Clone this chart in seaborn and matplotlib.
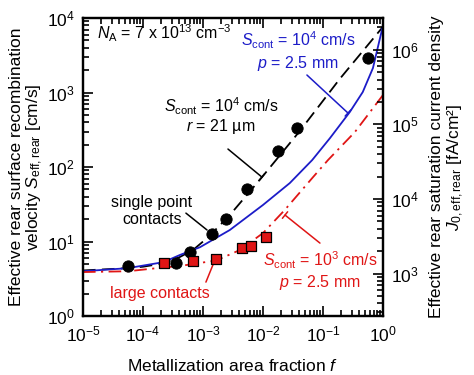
import matplotlib
matplotlib.use("Agg")
import matplotlib.pyplot as plt
import numpy as np
import pandas as pd
import seaborn as sns
from matplotlib.ticker import LogLocator, NullFormatter

# measured points (metallization fraction f, S_eff,rear in cm/s)
point_f = [5.6e-5, 3.5e-4, 6.1e-4, 1.41e-3, 2.4e-3, 5.4e-3, 0.0178, 0.037, 0.56]
point_s = [4.7, 5.1, 7.2, 12.6, 20, 51, 164, 334, 2900]
large_f = [2.24e-4, 6.8e-4, 1.65e-3, 4.47e-3, 6.3e-3, 0.0112]
large_s = [5.1, 5.5, 5.8, 8.2, 8.7, 11.5]

# model curves
dash_f = [1e-5, 5.6e-5, 1e-4, 2.2e-4, 4.1e-4, 6.8e-4, 1e-3, 1.4e-3, 2.8e-3, 9.6e-3, 0.041, 0.19, 0.96, 1.0]
dash_s = [4.1, 4.4, 4.6, 5.1, 6.2, 7.7, 10.0, 12.8, 22.7, 73, 304, 1520, 7340, 7600]
blue_f = [1e-5, 5.6e-5, 2.2e-4, 4.1e-4, 8.9e-4, 2.8e-3, 0.01, 0.028, 0.066, 0.131, 0.28, 0.46, 0.68, 0.96, 1.0]
blue_s = [4.0, 4.4, 5.3, 6.6, 8.4, 14.3, 31, 61, 124, 245, 548, 1015, 2130, 6900, 8000]
red_f = [1e-5, 5.6e-5, 2.2e-4, 4.1e-4, 1.7e-3, 4.1e-3, 0.01, 0.023, 0.068, 0.121, 0.34, 0.79, 1.0]
red_s = [3.9, 4.0, 4.5, 4.7, 5.6, 7.7, 13, 26.5, 73, 124, 295, 722, 925]

j0_per_s = 268  # fA/cm^2 per cm/s, right axis scaling

BLUE = "#1c1cc8"
RED = "#e01515"

sns.set_style("ticks", rc={
    "axes.edgecolor": "black",
    "axes.labelcolor": "black",
    "text.color": "black",
    "xtick.color": "black",
    "ytick.color": "black",
})
plt.rcParams["font.family"] = ["Liberation Sans", "DejaVu Sans"]
plt.rcParams["mathtext.fontset"] = "custom"
plt.rcParams["mathtext.rm"] = "Liberation Sans"
plt.rcParams["mathtext.it"] = "Liberation Sans:italic"
plt.rcParams["axes.unicode_minus"] = False

# minor tick positions: 2..9 times each decade shown
minor_x = [m * 10.0 ** k for k in range(-5, 0) for m in range(2, 10)]
minor_y = [m * 10.0 ** k for k in range(0, 4) for m in range(2, 10)]
minor_j = [m * 10.0 ** k for k in range(2, 7) for m in range(2, 10)]


def style_ticks(a):
    a.tick_params(which="both", direction="in", width=1.2, labelsize=12.5, color="black")
    a.tick_params(which="major", length=7, pad=6)
    a.tick_params(which="minor", length=4.5, width=1.2)
    for spine in a.spines.values():
        spine.set_linewidth(1.6)
        spine.set_color("black")


fig = plt.figure(figsize=(4.74, 3.75), dpi=100)
ax = fig.add_axes([0.175, 0.157, 0.633, 0.795])
ax.set(xscale="log", yscale="log")

curves = [
    (pd.DataFrame({"f": dash_f, "S": dash_s}), "black", (0, (7, 3.5))),
    (pd.DataFrame({"f": blue_f, "S": blue_s}), BLUE, "-"),
    (pd.DataFrame({"f": red_f, "S": red_s}), RED, (0, (7, 3, 1.2, 3))),
]
for frame, color, style in curves:
    sns.lineplot(data=frame, x="f", y="S", color=color, linestyle=style, linewidth=1.3,
                 estimator=None, sort=False, ax=ax)

sns.scatterplot(data=pd.DataFrame({"f": point_f, "S": point_s}), x="f", y="S", marker="o",
                s=66, color="black", edgecolor="black", ax=ax, zorder=5)
sns.scatterplot(data=pd.DataFrame({"f": large_f, "S": large_s}), x="f", y="S", marker="s",
                s=46, color=RED, edgecolor="black", linewidth=0.9, ax=ax, zorder=5)

ax.set_xlabel("Metallization area fraction $f$", fontsize=12.5)
ax.set_ylabel("Effective rear surface recombination\nvelocity $S_{\\mathrm{eff,rear}}$ [cm/s]",
              fontsize=12.5, linespacing=1.05)
ax.xaxis.set_label_coords(0.5, -0.14)
ax.yaxis.set_label_coords(-0.128, 0.5)

ax2 = ax.twinx()
ax2.set_yscale("log")
ax2.set_ylabel("Effective rear saturation current density\n$J_{0\\mathrm{,eff,rear}}$ [fA/cm²]",
               fontsize=12.5, linespacing=1.05)
ax2.yaxis.set_label_coords(1.155, 0.5)

ax.xaxis.set_major_locator(LogLocator(base=10, numticks=20))
ax.yaxis.set_major_locator(LogLocator(base=10, numticks=20))
ax2.yaxis.set_major_locator(LogLocator(base=10, numticks=20))
ax.set_xticks(minor_x, minor=True)
ax.set_yticks(minor_y, minor=True)
ax2.set_yticks(minor_j, minor=True)
for axis in (ax.xaxis, ax.yaxis, ax2.yaxis):
    axis.set_minor_formatter(NullFormatter())
ax.set_xlim(1e-5, 1)
ax.set_ylim(1, 1e4)
ax2.set_ylim(1 * j0_per_s, 1e4 * j0_per_s)
style_ticks(ax)
style_ticks(ax2)
ax.tick_params(which="both", top=True, right=False)

fs = 11.5
ax.text(1.71e-5, 6290, "$N_\\mathrm{A}$ = 7 x 10$^{13}$ cm$^{-3}$", fontsize=fs, ha="left", va="center")

ax.text(2.0e-3, 660, "$S_\\mathrm{cont}$ = 10$^4$ cm/s", fontsize=fs, ha="center", va="center")
ax.text(2.0e-3, 350, "$r$ = 21 µm", fontsize=fs, ha="center", va="center")
ax.annotate("", xy=(9.6e-3, 73.4), xytext=(2.61e-3, 174.5),
            arrowprops=dict(arrowstyle="-[, widthB=0.3, lengthB=0", color="black", lw=1.1,
                            shrinkA=0, shrinkB=0))

ax.text(0.0383, 5070, "$S_\\mathrm{cont}$ = 10$^4$ cm/s", fontsize=fs, ha="center", va="center", color=BLUE)
ax.text(0.0383, 2490, "$p$ = 2.5 mm", fontsize=fs, ha="center", va="center", color=BLUE)
ax.annotate("", xy=(0.261, 531), xytext=(0.054, 1718),
            arrowprops=dict(arrowstyle="-[, widthB=0.3, lengthB=0", color=BLUE, lw=1.1,
                            shrinkA=0, shrinkB=0))

ax.text(0.089, 5.64, "$S_\\mathrm{cont}$ = 10$^3$ cm/s", fontsize=fs, ha="center", va="center", color=RED)
ax.text(0.089, 2.86, "$p$ = 2.5 mm", fontsize=fs, ha="center", va="center", color=RED)
ax.annotate("", xy=(0.0233, 22.7), xytext=(0.089, 9.55),
            arrowprops=dict(arrowstyle="-[, widthB=0.3, lengthB=0", color=RED, lw=1.1,
                            shrinkA=0, shrinkB=0))

ax.text(1.41e-4, 33.9, "single point", fontsize=fs, ha="center", va="center")
ax.text(1.41e-4, 20, "contacts", fontsize=fs, ha="center", va="center")
ax.annotate("", xy=(1.17e-3, 14.3), xytext=(5.2e-4, 24.1),
            arrowprops=dict(arrowstyle="-", color="black", lw=1.1, shrinkA=0, shrinkB=0))

ax.text(1.92e-4, 2.04, "large contacts", fontsize=fs, ha="center", va="center", color=RED)
ax.annotate("", xy=(1.53e-3, 5.3), xytext=(1.12e-3, 2.86),
            arrowprops=dict(arrowstyle="-", color=RED, lw=1.1, shrinkA=0, shrinkB=0))

fig.savefig("out.png", dpi=100)
plt.close(fig)
